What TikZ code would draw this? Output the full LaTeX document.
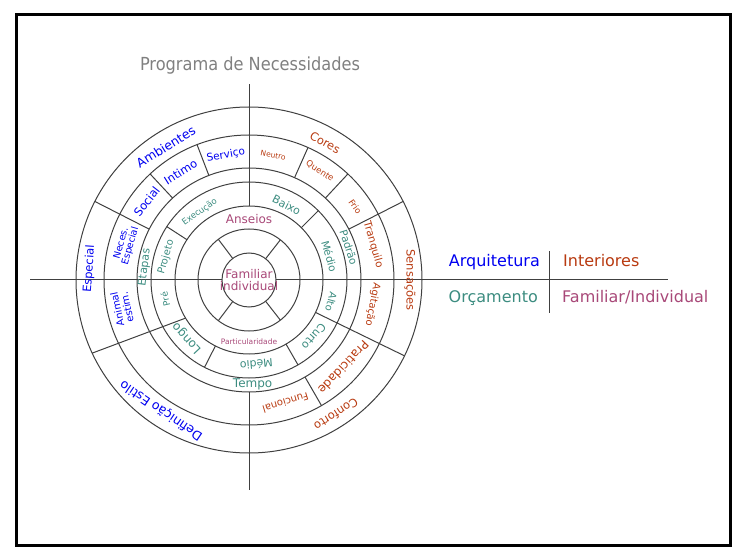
\documentclass[tikz,border=0pt]{standalone}
\usepackage{fontspec}
\setmainfont{DejaVu Sans}
\newfontfamily\condf{DejaVu Sans Condensed}
\newcommand\fz[1]{\fontsize{#1}{#1}\selectfont}
\definecolor{cb}{HTML}{0000F0}
\definecolor{co}{HTML}{B83A10}
\definecolor{ct}{HTML}{3C8C80}
\definecolor{cp}{HTML}{A84878}
\definecolor{ln}{HTML}{404040}
\tikzset{
  wire/.style={draw=ln, line width=1pt},
  lbl/.style={inner sep=0pt, align=center},
  tb/.style={lbl, text=cb},
  tor/.style={lbl, text=co},
  tt/.style={lbl, text=ct},
  tp/.style={lbl, text=cp}
}
\begin{document}
\begin{tikzpicture}[x=1pt,y=1pt]
\useasboundingbox (0,0) rectangle (740,558);
\draw[line width=3pt] (16,13) rectangle (730,543);
\node[lbl, text=gray, font=\condf\fz{18}] (title) at (250,492) {Programa de Necessidades};
\begin{scope}[shift={(249,278)}]
  % circles
  \foreach \r in {173,145,112,98,74,51,27} \draw[wire] (0,0) circle (\r);
  % axes
  \draw[wire] (90:74) -- (90:196);
  \draw[wire] (-90:112) -- (-90:210);
  \draw[wire] (-219,0) -- (-27,0);
  \draw[wire] (27,0) -- (419,0);
  % dividers
  \draw[wire] (27:112) -- (27:173);
  \draw[wire] (-26:74) -- (-26:173);
  \draw[wire] (-60:74) -- (-60:98);
  \draw[wire] (-60:112) -- (-60:145);
  \draw[wire] (-117:74) -- (-117:98);
  \draw[wire] (211:74) -- (205:173);
  \draw[wire] (147:74) -- (147:98);
  \draw[wire] (45:74) -- (45:98);
  \draw[wire] (111:112) -- (111:145);
  \draw[wire] (133:112) -- (133:145);
  \draw[wire] (153:112) -- (153:173);
  \draw[wire] (47:112) -- (47:145);
  \draw[wire] (66:112) -- (66:145);
  \foreach \a in {52,127,-52,-127} \draw[wire] (\a:27) -- (\a:51);
  % outer ring
  \node[tb, font=\fz{12.5}, rotate=32] (amb) at (122:157) {Ambientes};
  \node[tor, font=\fz{11.5}, rotate=-29] (cor) at (61:157) {Cores};
  \node[tor, font=\fz{11.5}, rotate=-90] (sen) at (0:161) {Sensações};
  \node[tor, font=\fz{11.5}, rotate=-147] (conf) at (-57:160) {Conforto};
  \node[tb, font=\fz{12.5}, rotate=-214] (def) at (-124:157) {Definição Estilo};
  \node[tb, font=\fz{11.5}, rotate=86] (esp) at (176:160) {Especial};
  % ring 2
  \node[tb, font=\fz{10.5}, rotate=10] (serv) at (100.5:127) {Serviço};
  \node[tb, font=\fz{11.5}, rotate=32] (int) at (122.3:128) {Intimo};
  \node[tb, font=\fz{11.5}, rotate=52] (soc) at (142.5:129) {Social};
  \node[tb, font=\fz{9.5}, rotate=74] (nec) at (164:128) {Neces.\\Especial};
  \node[tb, font=\fz{10}, rotate=102] (ani) at (192.6:130) {Animal\\estim.};
  \node[tor, font=\fz{10}, rotate=-163] (fun) at (-73.4:128) {Funcional};
  \node[tor, font=\fz{12}, rotate=-133] (pra) at (-42.8:129) {Praticidade};
  \node[tor, font=\fz{10}, rotate=-101] (agi) at (-11.3:126) {Agitação};
  \node[tor, font=\fz{10.5}, rotate=-74] (tra) at (15.8:129) {Tranquilo};
  \node[tor, font=\fz{8.5}, rotate=-55] (fri) at (34.6:129) {Frio};
  \node[tor, font=\fz{8.5}, rotate=-33] (que) at (57:130) {Quente};
  \node[tor, font=\fz{7.5}, rotate=-11] (neu) at (79:127) {Neutro};
  % ring 3
  \node[tt, font=\fz{11}, rotate=83] (eta) at (173:105) {Etapas};
  \node[tt, font=\fz{12}] (tem) at (-88:104) {Tempo};
  \node[tt, font=\fz{10.5}, rotate=-72] (pad) at (18:105) {Padrão};
  % ring 4
  \node[tt, font=\fz{8.5}, rotate=36] (exe) at (126:84) {Execução};
  \node[tt, font=\fz{11}, rotate=-27] (bai) at (63.4:84) {Baixo};
  \node[tt, font=\fz{10.5}, rotate=-74] (med1) at (16.5:84) {Médio};
  \node[tt, font=\fz{10}, rotate=-105] (alt) at (-15:85) {Alto};
  \node[tt, font=\fz{11}, rotate=-131] (cur) at (-41:86) {Curto};
  \node[tt, font=\fz{11}, rotate=-175] (med2) at (-85:85) {Médio};
  \node[tt, font=\fz{12}, rotate=-227] (lon) at (-137:85) {Longo};
  \node[tt, font=\fz{9}, rotate=103] (pre) at (193:86) {Pré};
  \node[tt, font=\fz{10}, rotate=74] (pro) at (164.5:86) {Projeto};
  % ring 5
  \node[tp, font=\fz{12}] (ans) at (90:61) {Anseios};
  \node[tp, font=\fz{7.5}] (par) at (-90:62) {Particularidade};
  \node[tp, font=\fz{12}] (fam) at (0,0) {Familiar\\individual};
\end{scope}
% legend
\draw[wire] (549,245) -- (549,307);
\node[tb, font=\fz{16}, anchor=east] (arq) at (540,296) {Arquitetura};
\node[tor, font=\fz{16}, anchor=west] (intr) at (563,297) {Interiores};
\node[tt, font=\fz{16}, anchor=east] (orc) at (538,260) {Orçamento};
\node[tp, font=\fz{16}, anchor=west] (fi) at (562,261) {Familiar/Individual};
\end{tikzpicture}
\end{document}
